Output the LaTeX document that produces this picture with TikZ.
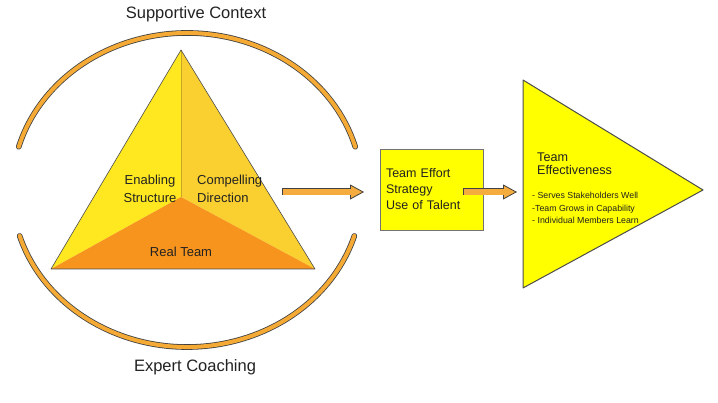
\documentclass[tikz,border=0pt]{standalone}
\usepackage{fontspec}
\setmainfont{Liberation Sans}
\usepackage{tikz}
\usetikzlibrary{arrows.meta,positioning}

\definecolor{faceleft}{RGB}{255,232,32}
\definecolor{faceright}{RGB}{250,208,48}
\definecolor{facebottom}{RGB}{247,148,29}
\definecolor{ringorange}{RGB}{244,170,52}
\definecolor{arroworange}{RGB}{245,172,62}
\definecolor{boxyellow}{RGB}{255,255,0}
\definecolor{inkdark}{RGB}{34,34,34}

\begin{document}
\begin{tikzpicture}[
    x=1pt,y=1pt,
    ring/.style={line width=5.6pt, draw=black!75, line cap=round,
      postaction={draw=ringorange, line width=4pt}},
    label/.style={inner sep=0pt, text=inkdark, align=center,
      font=\fontsize{13}{18}\selectfont},
    caption/.style={inner sep=0pt, text=inkdark, font=\fontsize{16.5}{20}\selectfont},
    effortbox/.style={draw=black!55, fill=boxyellow, minimum width=103pt,
      minimum height=81pt, text width=91pt, inner xsep=6pt, align=left,
      text=inkdark, font=\fontsize{12.5}{16}\selectfont},
    blockarrow/.style={line width=7pt, draw=black!75,
      -{Triangle[length=14pt, width=15pt, line width=0.8pt, fill=arroworange]},
      postaction={draw=arroworange, line width=5.2pt, -, shorten >=13.5pt, shorten <=0.9pt}}
  ]
    \useasboundingbox (0,0) rectangle (718,403);

    \draw[ring] (187,213) ++(16:175 and 157) arc[start angle=16, end angle=164,
      x radius=175, y radius=157];
    \draw[ring] (187,213) ++(197:175 and 157) arc[start angle=197, end angle=343,
      x radius=175, y radius=157];

    \coordinate (apex) at (181,353);
    \coordinate (bl) at (51,134);
    \coordinate (br) at (315,134);
    \coordinate (mid) at (181,206);

    \fill[faceleft] (apex) -- (mid) -- (bl) -- cycle;
    \fill[faceright] (apex) -- (br) -- (mid) -- cycle;
    \fill[facebottom] (bl) -- (mid) -- (br) -- cycle;
    \draw[faceright!80!black, line width=0.5pt] (apex) -- (mid);
    \draw[black!70, line width=0.6pt, line join=round] (apex) -- (br) -- (bl) -- cycle;

    \node[caption] (context) at (196,389) {Supportive Context};
    \node[caption] (coaching) at (195,36) {Expert Coaching};

    \node[label] (enabling) at (150,214) {Enabling\\Structure};
    \node[label, align=left, anchor=west] (compelling) at (197,214) {Compelling\\Direction};
    \node[label] (realteam) at (181,151) {Real Team};

    \node[effortbox] (effort) at (431.5,213.5) {Team Effort\\Strategy\\Use of Talent};

    \coordinate (a1s) at (282,211);
    \coordinate (a1e) at (364,211);
    \draw[blockarrow] (a1s) -- (a1e);

    \draw[draw=gray!60!black, line width=1pt, fill=boxyellow, line join=round]
      (523,323) -- (703,213) -- (523,115) -- cycle;

    \coordinate (a2s) at (463,211);
    \coordinate (a2e) at (517,211);
    \draw[blockarrow] (a2s) -- (a2e);

    \node[inner sep=0pt, anchor=west, align=left, text=inkdark,
      font=\fontsize{12.6}{13.5}\selectfont] (outcome) at (537,239.5)
      {Team\\Effectiveness};
    \node[inner sep=0pt, anchor=west, align=left, text=inkdark,
      font=\fontsize{8.8}{12.2}\selectfont] (criteria) at (532,195)
      {- Serves Stakeholders Well\\-Team Grows in Capability\\- Individual Members Learn};
  \end{tikzpicture}
\end{document}
